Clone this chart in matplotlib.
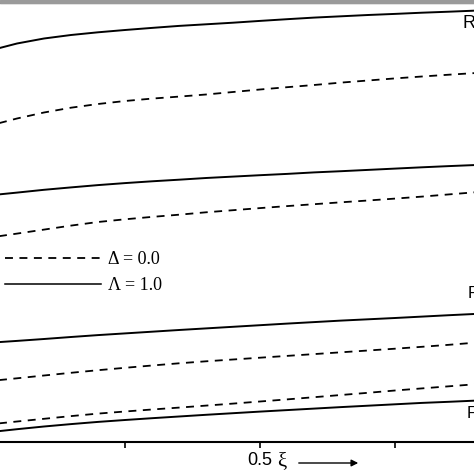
import numpy as np
import matplotlib
matplotlib.use("Agg")
import matplotlib.pyplot as plt
from matplotlib.patches import Rectangle
from matplotlib.lines import Line2D

# Data: xi positions and curve values (arbitrary vertical units)
xi = [0.0, 0.05, 0.1, 0.15, 0.2, 0.25, 0.3, 0.35, 0.4, 0.45,
      0.5, 0.55, 0.6, 0.65, 0.7, 0.75, 0.8, 0.85, 0.9]

top_solid = [3.915, 3.985, 4.035, 4.07, 4.097, 4.12, 4.141, 4.161, 4.177, 4.193,
             4.211, 4.228, 4.244, 4.257, 4.27, 4.281, 4.293, 4.303, 4.314]
top_dashed = [3.165, 3.235, 3.295, 3.343, 3.38, 3.41, 3.434, 3.454, 3.475, 3.50,
              3.525, 3.548, 3.57, 3.594, 3.615, 3.636, 3.655, 3.673, 3.69]
mid_solid = [2.467, 2.494, 2.522, 2.546, 2.569, 2.589, 2.607, 2.623, 2.64, 2.654,
             2.668, 2.681, 2.696, 2.708, 2.721, 2.734, 2.747, 2.759, 2.77]
mid_dashed = [2.045, 2.084, 2.124, 2.164, 2.20, 2.227, 2.251, 2.273, 2.297, 2.318,
              2.339, 2.359, 2.378, 2.397, 2.415, 2.434, 2.454, 2.476, 2.498]
low_solid = [0.993, 1.011, 1.03, 1.05, 1.069, 1.086, 1.103, 1.12, 1.136, 1.152,
             1.168, 1.184, 1.199, 1.214, 1.227, 1.24, 1.254, 1.268, 1.281]
low_dashed_1 = [0.61, 0.637, 0.665, 0.692, 0.718, 0.742, 0.765, 0.787, 0.807, 0.825,
                0.843, 0.861, 0.879, 0.897, 0.915, 0.933, 0.952, 0.972, 0.994]
low_dashed_2 = [0.177, 0.205, 0.232, 0.259, 0.284, 0.305, 0.325, 0.344, 0.364, 0.384,
                0.405, 0.426, 0.448, 0.47, 0.492, 0.515, 0.536, 0.557, 0.578]
bottom_solid = [0.099, 0.128, 0.155, 0.179, 0.201, 0.22, 0.238, 0.255, 0.272, 0.288,
                0.304, 0.319, 0.334, 0.349, 0.363, 0.377, 0.391, 0.402, 0.414]

tick_pos = [0.25, 0.5, 0.75]
tick_labels = ["", "0.5", ""]
legend_labels = ["\u0394 = 0.0", "\u039b = 1.0"]

W = H = 474
fig = plt.figure(figsize=(4.74, 4.74), dpi=100)
ax = fig.add_axes([0, 32 / H, 1, 442 / H])

dash = (0, (4.4, 3.6))
solid_kw = dict(color="black", lw=1.4, solid_capstyle="butt")
dash_kw = dict(color="black", lw=1.3, linestyle=dash)

ax.plot(xi, top_solid, **solid_kw)
ax.plot(xi, top_dashed, **dash_kw)
ax.plot(xi, mid_solid, **solid_kw)
ax.plot(xi, mid_dashed, **dash_kw)
ax.plot(xi, low_solid, **solid_kw)
ax.plot(xi, low_dashed_1, **dash_kw)
ax.plot(xi, low_dashed_2, **dash_kw)
ax.plot(xi, bottom_solid, **solid_kw)

ax.set_xlim(10 / 540, 484 / 540)
ax.set_ylim(0, 4.42)

for s in ["left", "right", "top"]:
    ax.spines[s].set_visible(False)
ax.spines["bottom"].set_linewidth(1.5)
ax.set_yticks([])
ax.set_xticks(tick_pos)
ax.set_xticklabels(tick_labels, family="Liberation Sans", fontsize=13)
ax.tick_params(axis="x", direction="out", length=4, width=1.2, pad=3)

# legend
handles = [Line2D([], [], **dash_kw), Line2D([], [], color="black", lw=1.1)]
ax.legend(handles, legend_labels, loc="upper left",
          bbox_to_anchor=(5 / W, 0.432), frameon=False, borderpad=0,
          borderaxespad=0, handlelength=5.3, handletextpad=0.4,
          labelspacing=0.5, prop={"family": "Liberation Serif", "size": 13})

# curve labels at right edge (cut off in the original)
fig.text(462 / W, 1 - 28 / H, "R", family="Liberation Sans", fontsize=13,
         va="baseline", ha="left")
fig.text(467.5 / W, 1 - 298 / H, "R", family="Liberation Sans", fontsize=12,
         va="baseline", ha="left")
fig.text(466.5 / W, 1 - 418 / H, "F", family="Liberation Sans", fontsize=12,
         va="baseline", ha="left")

# xi arrow label
fig.text(277 / W, 1 - 462 / H, "\u03be", family="Liberation Serif", fontsize=15,
         va="center", ha="left")
ax.annotate("", xy=(361 / W, 1 - 463 / H), xytext=(296 / W, 1 - 463 / H),
            xycoords="figure fraction", textcoords="figure fraction",
            arrowprops=dict(arrowstyle="-|>", color="black", lw=1.0,
                            mutation_scale=10))

# gray top border
fig.patches.append(Rectangle((0, 1 - 2.5 / H), 1, 2.5 / H, transform=fig.transFigure,
                             color="#9a9a9a", zorder=5))
fig.lines.append(Line2D([0, 1], [1 - 3 / H, 1 - 3 / H], transform=fig.transFigure,
                        color="#333333", lw=0.8))

fig.savefig("out.png", dpi=100)
